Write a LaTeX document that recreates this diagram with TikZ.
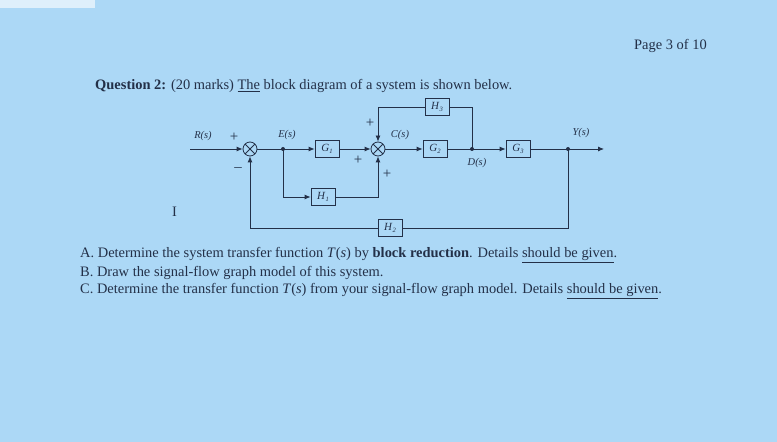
\documentclass[tikz,border=0pt]{standalone}
\usepackage{fontspec}
\setmainfont{Liberation Serif}
\usetikzlibrary{arrows.meta}
\definecolor{bg}{RGB}{172,216,246}
\definecolor{ink}{RGB}{35,48,72}
\newcommand{\Ts}{\textit{T}(\textit{s})}
\newcommand{\Sub}[2]{\textit{#1}\raisebox{-0.3ex}{\scalebox{0.6}{\textit{#2}}}}
\begin{document}
\begin{tikzpicture}[x=1bp,y=-1bp,
  blk/.style={draw=ink,line width=0.8pt,minimum width=24bp,minimum height=17bp,inner sep=0pt,font=\fontsize{11}{12}\selectfont,text=ink},
  sumj/.style={draw=ink,line width=0.8pt,circle,minimum size=14bp,inner sep=0pt,path picture={\draw[ink,line width=0.8pt] (path picture bounding box.north west)--(path picture bounding box.south east) (path picture bounding box.north east)--(path picture bounding box.south west);}},
  dotp/.style={circle,fill=ink,inner sep=0pt,minimum size=4bp},
  wire/.style={draw=ink,line width=0.8pt},
  arr/.style={wire,-{Latex[length=6bp,width=5bp]}},
  lab/.style={text=ink,font=\fontsize{10.5}{11}\selectfont\itshape},
  sgn/.style={text=ink,font=\fontsize{15}{16}\selectfont},
  txt/.style={text=ink,font=\fontsize{14.5}{16}\selectfont,anchor=west,inner sep=0pt}]
\useasboundingbox (0,0) rectangle (777,442);
\fill[bg] (0,0) rectangle (777,442);
\fill[white!60!bg] (0,0) rectangle (95,8);
\node[txt] (pg) at (634,46) {Page 3 of 10};
\node[txt] (q) at (95,86) {\textbf{Question 2:} (20 marks) \underline{The} block diagram of a system is shown below.};
% diagram
\coordinate (rin) at (190,149);
\node[sumj] (s1) at (250,149) {};
\coordinate (eb) at (283,149);
\node[dotp] at (eb) {};
\node[blk] (g1) at (327,149) {\Sub{G}{1}};
\node[sumj] (s2) at (378,149) {};
\node[blk] (g2) at (435,149) {\Sub{G}{2}};
\coordinate (db) at (472,149);
\node[dotp] at (db) {};
\node[blk] (g3) at (518,149) {\Sub{G}{3}};
\coordinate (yb) at (568,149);
\node[dotp] at (yb) {};
\coordinate (yout) at (604,149);
\node[blk] (h3) at (437,107) {\Sub{H}{3}};
\node[blk] (h1) at (323,197) {\Sub{H}{1}};
\node[blk] (h2) at (390,228) {\Sub{H}{2}};
\draw[arr] (rin) -- (s1);
\draw[wire] (s1) -- (eb);
\draw[arr] (eb) -- (g1);
\draw[arr] (g1) -- (s2);
\draw[arr] (s2) -- (g2);
\draw[wire] (g2) -- (db);
\draw[arr] (db) -- (g3);
\draw[wire] (g3) -- (yb);
\draw[arr] (yb) -- (yout);
\draw[wire] (db) |- (h3);
\draw[arr] (h3) -| (s2);
\draw[arr] (eb) |- (h1);
\draw[arr] (h1) -| (s2);
\draw[wire] (yb) |- (h2);
\draw[arr] (h2) -| (s1);
\node[lab] (rl) at (203,136) {R(s)};
\node[lab] (el) at (287,135) {E(s)};
\node[lab] (cl) at (400,135) {C(s)};
\node[lab] (dl) at (477,163) {D(s)};
\node[lab] (yl) at (581,133) {Y(s)};
\node[sgn] (p1) at (234,137) {+};
\node[sgn] (m1) at (238,170) {–};
\node[sgn] (p2) at (370,123) {+};
\node[sgn] (p3) at (358,160) {+};
\node[sgn] (p4) at (387,174) {+};
\node[txt] (ii) at (172,212) {I};
\node[txt] (a) at (80,255) {A. Determine the system transfer function \Ts{} by \textbf{block reduction}. Details \underline{should be given}.};
\node[txt] (b) at (80,273) {B. Draw the signal-flow graph model of this system.};
\node[txt] (c) at (80,291) {C. Determine the transfer function \Ts{} from your signal-flow graph model. Details \underline{should be given}.};
\end{tikzpicture}
\end{document}
